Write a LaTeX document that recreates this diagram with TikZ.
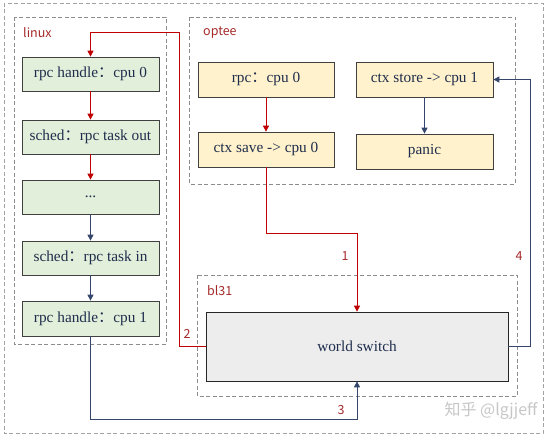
\documentclass[tikz,border=0pt]{standalone}
\usepackage{fontspec}
\setmainfont{Liberation Serif}
\newfontfamily\cjk{Noto Sans CJK SC}
\usetikzlibrary{arrows.meta}
\definecolor{redln}{HTML}{C00000}
\definecolor{blueln}{HTML}{34466B}
\definecolor{txt}{HTML}{1F2D4D}
\definecolor{lab}{HTML}{A52A2A}
\definecolor{grn}{HTML}{E2EFDA}
\definecolor{ylw}{HTML}{FFF2CC}
\definecolor{gry}{HTML}{EDEDED}
\definecolor{dsh}{HTML}{8C8C8C}
\newcommand{\fc}{{\cjk ：}}
\tikzset{
  box/.style={draw=black!75, line width=0.7pt, minimum width=137pt, minimum height=34pt, inner sep=0pt,
    text=txt, font=\fontsize{15.3}{17}\selectfont},
  gbox/.style={box, fill=grn},
  ybox/.style={box, fill=ylw, minimum width=136pt, minimum height=35pt},
  grp/.style={draw=dsh, dash pattern=on 4pt off 2.5pt, line width=0.7pt},
  grplab/.style={text=lab, font=\cjk\fontsize{12.5}{14}\selectfont, anchor=west, inner sep=0pt},
  num/.style={text=lab, font=\cjk\fontsize{12.5}{14}\selectfont, inner sep=0pt},
  rarr/.style={draw=redln, line width=0.8pt, -{Triangle[length=6pt,width=6pt]}},
  barr/.style={draw=blueln, line width=0.8pt, -{Triangle[length=6pt,width=6pt]}},
}
\begin{document}
\begin{tikzpicture}[x=1pt,y=-1pt]
\useasboundingbox (0,0) rectangle (555,441);
\fill[white] (0,0) rectangle (555,441);
% groups
\draw[grp, draw=dsh!80] (4,3) rectangle (543,433);
\draw[grp] (14,17) rectangle (166,344);
\draw[grp] (189,17) rectangle (515,184);
\draw[grp] (197,275) rectangle (517,396);
\node[grplab] (llinux) at (23,33) {linux};
\node[grplab] (loptee) at (203,33) {optee};
\node[grplab] (lbl) at (207,291) {bl31};
% linux boxes
\node[gbox] (b1) at (90.5,74) {rpc handle\fc cpu 0};
\node[gbox] (b2) at (90.5,137) {sched\fc rpc task out};
\node[gbox] (b3) at (90.5,197) {...};
\node[gbox] (b4) at (90.5,258) {sched\fc rpc task in};
\node[gbox, minimum height=35pt] (b5) at (90.5,318.5) {rpc handle\fc cpu 1};
% optee boxes
\node[ybox] (rpc) at (266,79.5) {rpc\fc cpu 0};
\node[ybox] (save) at (266,149.5) {ctx save -> cpu 0};
\node[ybox, minimum width=137pt] (store) at (424.5,79.5) {ctx store -> cpu 1};
\node[ybox, minimum width=137pt] (panic) at (424.5,151.5) {panic};
% bl31
\node[box, fill=gry, draw=black!85, minimum width=302pt, minimum height=69pt] (ws) at (357,346.5) {world switch};
% coordinates
\coordinate (c2) at (179,32);
\coordinate (c1) at (357,233);
\coordinate (c3) at (357,419);
\coordinate (c4) at (530,79.5);
% connectors
\draw[rarr] (b1) -- (b2);
\draw[rarr] (b2) -- (b3);
\draw[barr] (b3) -- (b4);
\draw[barr] (b4) -- (b5);
\draw[rarr] (rpc) -- (save);
\draw[barr] (store) -- (panic);
\draw[rarr] (ws.west) -| (c2) -| (b1.north);
\draw[rarr] (save.south) |- (c1) -- (ws.north);
\draw[barr] (b5.south) |- (c3) -- (ws.south);
\draw[barr] (ws.east) -| (c4) -- (store.east);
% numbers
\node[num] (n1) at (345,256) {1};
\node[num] (n2) at (187,334) {2};
\node[num] (n3) at (341,410) {3};
\node[num] (n4) at (519,256) {4};
% watermark
\node[text=black!22, font=\cjk\fontsize{16}{18}\selectfont, inner sep=0pt] (wm) at (491,411) {知乎 @lgjjeff};
\end{tikzpicture}
\end{document}
